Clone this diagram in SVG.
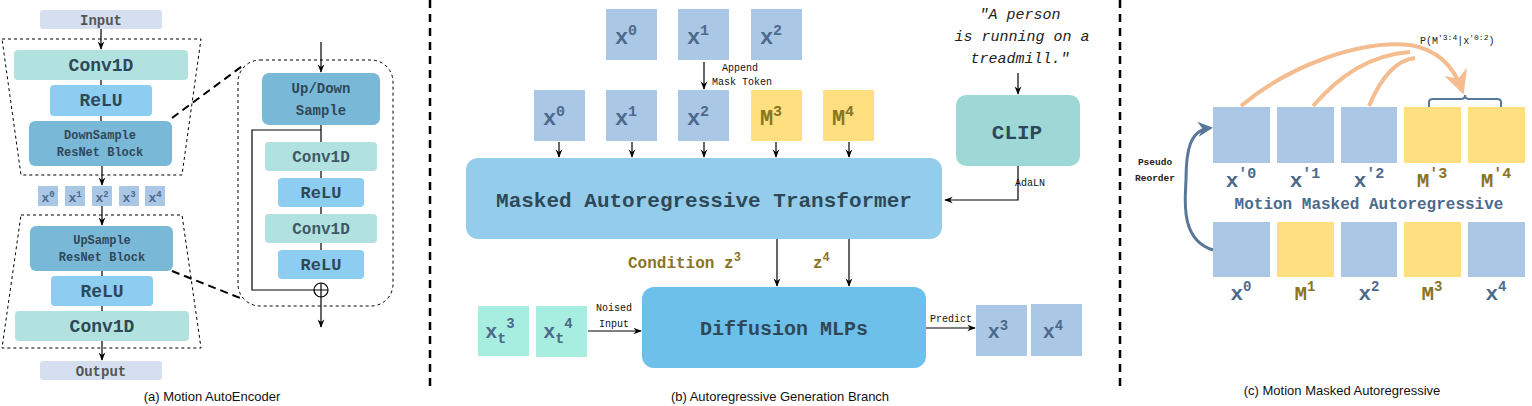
<svg xmlns="http://www.w3.org/2000/svg" width="1532" height="406" viewBox="0 0 1532 406">
<defs>
<marker id="ah" viewBox="0 0 10 10" refX="9" refY="5" markerWidth="7" markerHeight="7" orient="auto"><path d="M0,1 L10,5 L0,9 L3,5z" fill="#000"/></marker>
<marker id="ob" viewBox="0 0 10 10" refX="8" refY="5" markerWidth="6" markerHeight="6" orient="auto"><path d="M0,0 L10,5 L0,10 L3,5z" fill="#F3BD8F"/></marker>
<marker id="bb" viewBox="0 0 10 10" refX="8" refY="5" markerWidth="5" markerHeight="5" orient="auto"><path d="M0,0 L10,5 L0,10 L3,5z" fill="#58789A"/></marker>
<style>
.m{font-family:"Liberation Mono",monospace;font-weight:bold;text-anchor:middle;fill:#2F4858}
.tk{font-family:"Liberation Mono",monospace;font-weight:bold;fill:#4C6A8C;text-anchor:middle}
.ym{fill:#8A7425}
.sm{font-family:"Liberation Mono",monospace;font-size:10px;fill:#111;text-anchor:middle}
.cap{font-family:"Liberation Sans",sans-serif;font-size:13px;fill:#111;text-anchor:middle}
.bl{fill:#AAC8E6}.yl{fill:#FFDF80}
.cv{fill:#B1E2E0}.rl{fill:#8DCDF2}.rb{fill:#7AB8D8}
.ln{stroke:#000;stroke-width:1.2;fill:none}
.ds{stroke:#000;stroke-width:1;stroke-dasharray:3,3;fill:none}
</style>
</defs>
<g stroke="#000" stroke-width="2.5" stroke-dasharray="8,6"><line x1="430" y1="0" x2="430" y2="392"/><line x1="1120" y1="0" x2="1120" y2="392"/></g>

<!-- Panel a -->
<g id="a-input"><rect x="40" y="10" width="122" height="19" rx="3" fill="#D5DFF0"/><text class="m" x="101" y="25" font-size="14" style="fill:#555">Input</text></g>
<path class="ds" d="M2,39 L201,39 L182,175 L21,175 Z"/>
<g id="a-conv1"><rect class="cv" x="14" y="50" width="174" height="30" rx="4"/><text class="m" x="101" y="71" font-size="18">Conv1D</text></g>
<g id="a-relu1"><rect class="rl" x="50" y="85" width="102" height="31" rx="4"/><text class="m" x="101" y="106" font-size="18">ReLU</text></g>
<g id="a-down"><rect class="rb" x="29" y="121" width="143" height="45" rx="6"/><text class="m" x="100" y="139" font-size="12">DownSample</text><text class="m" x="100" y="156" font-size="12">ResNet Block</text></g>
<g id="a-tokens">
<rect class="bl" x="38" y="186" width="20" height="20"/><text class="tk" x="48" y="202" font-size="13">x<tspan dy="-5" font-size="9">0</tspan></text>
<rect class="bl" x="65" y="186" width="20" height="20"/><text class="tk" x="75" y="202" font-size="13">x<tspan dy="-5" font-size="9">1</tspan></text>
<rect class="bl" x="92" y="186" width="20" height="20"/><text class="tk" x="102" y="202" font-size="13">x<tspan dy="-5" font-size="9">2</tspan></text>
<rect class="bl" x="119" y="186" width="20" height="20"/><text class="tk" x="129" y="202" font-size="13">x<tspan dy="-5" font-size="9">3</tspan></text>
<rect class="bl" x="145" y="186" width="20" height="20"/><text class="tk" x="155" y="202" font-size="13">x<tspan dy="-5" font-size="9">4</tspan></text>
</g>
<path class="ds" d="M21,215 L182,215 L201,348 L2,348 Z"/>
<g id="a-up"><rect class="rb" x="30" y="226" width="143" height="45" rx="6"/><text class="m" x="102" y="244" font-size="12">UpSample</text><text class="m" x="102" y="261" font-size="12">ResNet Block</text></g>
<g id="a-relu2"><rect class="rl" x="51" y="276" width="102" height="30" rx="4"/><text class="m" x="102" y="297" font-size="18">ReLU</text></g>
<g id="a-conv2"><rect class="cv" x="15" y="311" width="174" height="30" rx="4"/><text class="m" x="102" y="332" font-size="18">Conv1D</text></g>
<g id="a-output"><rect x="40" y="361" width="122" height="19" rx="3" fill="#D5DFF0"/><text class="m" x="101" y="376" font-size="14" style="fill:#555">Output</text></g>
<text class="cap" x="212" y="401">(a) Motion AutoEncoder</text>

<rect class="ds" x="238" y="60" width="155" height="246" rx="22"/>
<g id="a-updown"><rect class="rb" x="262" y="73" width="118" height="52" rx="7"/><text class="m" x="321" y="93" font-size="14">Up/Down</text><text class="m" x="321" y="115" font-size="14">Sample</text></g>
<g id="a-dconv1"><rect class="cv" x="265" y="142" width="112" height="29" rx="4"/><text class="m" x="321" y="162" font-size="16" style="fill:#405868">Conv1D</text></g>
<g id="a-drelu1"><rect class="rl" x="278" y="178" width="86" height="29" rx="4"/><text class="m" x="321" y="198" font-size="17">ReLU</text></g>
<g id="a-dconv2"><rect class="cv" x="265" y="214" width="112" height="29" rx="4"/><text class="m" x="321" y="234" font-size="16" style="fill:#405868">Conv1D</text></g>
<g id="a-drelu2"><rect class="rl" x="278" y="250" width="86" height="29" rx="4"/><text class="m" x="321" y="270" font-size="17">ReLU</text></g>

<g id="a-connectors">
<line class="ln" x1="101" y1="29" x2="101" y2="49" marker-end="url(#ah)"/>
<line class="ln" x1="101" y1="80" x2="101" y2="85" stroke-width="0.8"/>
<line class="ln" x1="101" y1="116" x2="101" y2="121" stroke-width="0.8"/>
<line class="ln" x1="102" y1="166" x2="102" y2="185" marker-end="url(#ah)"/>
<line class="ln" x1="102" y1="206" x2="102" y2="225" marker-end="url(#ah)"/>
<line class="ln" x1="102" y1="271" x2="102" y2="276" stroke-width="0.8"/>
<line class="ln" x1="102" y1="306" x2="102" y2="311" stroke-width="0.8"/>
<line class="ln" x1="102" y1="341" x2="102" y2="360" marker-end="url(#ah)"/>
<line x1="172" y1="118" x2="245" y2="64" stroke="#000" stroke-width="2" stroke-dasharray="8,5"/>
<line x1="172" y1="271" x2="240" y2="298" stroke="#000" stroke-width="2" stroke-dasharray="8,5"/>
<line class="ln" x1="321" y1="42" x2="321" y2="72" marker-end="url(#ah)"/>
<line class="ln" x1="321" y1="125" x2="321" y2="142" stroke-width="0.8"/>
<line class="ln" x1="321" y1="171" x2="321" y2="178" stroke-width="0.8"/>
<line class="ln" x1="321" y1="207" x2="321" y2="214" stroke-width="0.8"/>
<line class="ln" x1="321" y1="243" x2="321" y2="250" stroke-width="0.8"/>
<path class="ln" d="M321,130 L252,130 L252,290 L315,290"/>
<circle cx="321" cy="290" r="7" fill="none" stroke="#000" stroke-width="1.2"/>
<path class="ln" d="M314,290 H328 M321,283 V297"/>
<line class="ln" x1="321" y1="297" x2="321" y2="327" marker-end="url(#ah)"/>
</g>

<!-- Panel b -->
<g id="b-top">
<rect class="bl" x="606" y="9" width="51" height="51"/><text class="tk" x="626" y="44" font-size="22">x<tspan dy="-9" font-size="15">0</tspan></text>
<rect class="bl" x="678" y="9" width="51" height="51"/><text class="tk" x="698" y="44" font-size="22">x<tspan dy="-9" font-size="15">1</tspan></text>
<rect class="bl" x="751" y="9" width="51" height="51"/><text class="tk" x="771" y="44" font-size="22">x<tspan dy="-9" font-size="15">2</tspan></text>
</g>
<g id="b-row">
<rect class="bl" x="534" y="90" width="51" height="51"/><text class="tk" x="554" y="125" font-size="22">x<tspan dy="-9" font-size="15">0</tspan></text>
<rect class="bl" x="606" y="90" width="51" height="51"/><text class="tk" x="626" y="125" font-size="22">x<tspan dy="-9" font-size="15">1</tspan></text>
<rect class="bl" x="678" y="90" width="51" height="51"/><text class="tk" x="698" y="125" font-size="22">x<tspan dy="-9" font-size="15">2</tspan></text>
<rect class="yl" x="751" y="90" width="51" height="51"/><text class="tk ym" x="771" y="125" font-size="22">M<tspan dy="-9" font-size="15">3</tspan></text>
<rect class="yl" x="823" y="90" width="51" height="51"/><text class="tk ym" x="843" y="125" font-size="22">M<tspan dy="-9" font-size="15">4</tspan></text>
</g>
<g id="b-transformer"><rect x="466" y="158" width="476" height="81" rx="12" fill="#94CDEB"/><text class="m" x="704" y="207" font-size="21">Masked Autoregressive Transformer</text></g>
<g id="b-text"><text font-family="Liberation Mono,monospace" font-style="italic" font-size="15" text-anchor="middle" fill="#222"><tspan x="1020" y="19">"A person</tspan><tspan x="1022" y="41">is running on a</tspan><tspan x="1020" y="63">treadmill."</tspan></text></g>
<g id="b-clip"><rect x="956" y="95" width="124" height="71" rx="10" fill="#9ED8D6"/><text class="m" x="1017" y="139" font-size="21">CLIP</text></g>
<g id="b-diffusion"><rect x="642" y="287" width="284" height="81" rx="12" fill="#6CC0EA"/><text class="m" x="784" y="335" font-size="20">Diffusion MLPs</text></g>
<g id="b-xt">
<rect x="478" y="306" width="51" height="50" fill="#A8EEE0"/><text class="tk" x="500" y="338" font-size="20">x<tspan dy="5" font-size="15">t</tspan><tspan dy="-15" font-size="14">3</tspan></text>
<rect x="536" y="306" width="51" height="51" fill="#A8EEE0"/><text class="tk" x="558" y="338" font-size="20">x<tspan dy="5" font-size="15">t</tspan><tspan dy="-15" font-size="14">4</tspan></text>
</g>
<g id="b-out">
<rect class="bl" x="976" y="305" width="51" height="51"/><text class="tk" x="998" y="338" font-size="20">x<tspan dy="-8" font-size="14">3</tspan></text>
<rect class="bl" x="1031" y="304" width="51" height="52"/><text class="tk" x="1053" y="338" font-size="20">x<tspan dy="-8" font-size="14">4</tspan></text>
</g>
<text font-family="Liberation Mono,monospace" font-weight="bold" font-size="16" fill="#8A7425" x="628" y="268">Condition z<tspan dy="-7" font-size="12">3</tspan></text>
<text font-family="Liberation Mono,monospace" font-weight="bold" font-size="16" fill="#8A7425" x="813" y="268">z<tspan dy="-7" font-size="12">4</tspan></text>
<text class="sm" x="740" y="71">Append</text><text class="sm" x="742" y="85">Mask Token</text>
<text class="sm" x="1030" y="186">AdaLN</text>
<text class="sm" x="614" y="311">Noised</text><text class="sm" x="614" y="327">Input</text>
<text class="sm" x="951" y="322">Predict</text>
<g id="b-connectors">
<line class="ln" x1="704" y1="62" x2="704" y2="89" marker-end="url(#ah)"/>
<line class="ln" x1="559" y1="142" x2="559" y2="157" marker-end="url(#ah)"/>
<line class="ln" x1="632" y1="142" x2="632" y2="157" marker-end="url(#ah)"/>
<line class="ln" x1="704" y1="142" x2="704" y2="157" marker-end="url(#ah)"/>
<line class="ln" x1="776" y1="142" x2="776" y2="157" marker-end="url(#ah)"/>
<line class="ln" x1="849" y1="142" x2="849" y2="157" marker-end="url(#ah)"/>
<line class="ln" x1="1018" y1="73" x2="1018" y2="94" marker-end="url(#ah)"/>
<path class="ln" d="M1018,166 L1018,200 L945,200" marker-end="url(#ah)"/>
<line class="ln" x1="777" y1="239" x2="777" y2="286" marker-end="url(#ah)"/>
<line class="ln" x1="849" y1="239" x2="849" y2="286" marker-end="url(#ah)"/>
<line class="ln" x1="588" y1="331" x2="641" y2="331" marker-end="url(#ah)"/>
<line class="ln" x1="926" y1="328" x2="975" y2="328" marker-end="url(#ah)"/>
</g>
<text class="cap" x="780" y="401">(b) Autoregressive Generation Branch</text>

<!-- Panel c -->
<g id="c-top">
<rect class="bl" x="1213" y="107" width="57" height="56"/><text class="tk" x="1241" y="187" font-size="21">x<tspan dy="-9" font-size="15">'0</tspan></text>
<rect class="bl" x="1277" y="107" width="57" height="56"/><text class="tk" x="1305" y="187" font-size="21">x<tspan dy="-9" font-size="15">'1</tspan></text>
<rect class="bl" x="1341" y="107" width="56" height="56"/><text class="tk" x="1369" y="187" font-size="21">x<tspan dy="-9" font-size="15">'2</tspan></text>
<rect class="yl" x="1404" y="107" width="57" height="56"/><text class="tk ym" x="1432" y="187" font-size="21">M<tspan dy="-9" font-size="15">'3</tspan></text>
<rect class="yl" x="1468" y="107" width="57" height="56"/><text class="tk ym" x="1496" y="187" font-size="21">M<tspan dy="-9" font-size="15">'4</tspan></text>
</g>
<text class="tk" x="1369" y="209" font-size="16">Motion Masked Autoregressive</text>
<g id="c-bottom">
<rect class="bl" x="1213" y="222" width="57" height="55"/><text class="tk" x="1241" y="300" font-size="21">x<tspan dy="-9" font-size="14">0</tspan></text>
<rect class="yl" x="1277" y="222" width="57" height="55"/><text class="tk ym" x="1305" y="300" font-size="21">M<tspan dy="-9" font-size="14">1</tspan></text>
<rect class="bl" x="1341" y="222" width="56" height="55"/><text class="tk" x="1369" y="300" font-size="21">x<tspan dy="-9" font-size="14">2</tspan></text>
<rect class="yl" x="1404" y="222" width="57" height="55"/><text class="tk ym" x="1432" y="300" font-size="21">M<tspan dy="-9" font-size="14">3</tspan></text>
<rect class="bl" x="1468" y="222" width="57" height="55"/><text class="tk" x="1496" y="300" font-size="21">x<tspan dy="-9" font-size="14">4</tspan></text>
</g>
<text font-family="Liberation Mono,monospace" font-size="10" fill="#222" x="1420" y="44">P(M<tspan dy="-4" font-size="8">'3:4</tspan><tspan dy="4">|x</tspan><tspan dy="-4" font-size="8">'0:2</tspan><tspan dy="4">)</tspan></text>
<text font-family="Liberation Mono,monospace" font-weight="bold" font-size="9.5" fill="#222" text-anchor="middle"><tspan x="1155" y="165">Pseudo</tspan><tspan x="1155" y="181">Reorder</tspan></text>
<g id="c-connectors" fill="none">
<path d="M1241,106 C1290,65 1360,40 1410,45 C1440,50 1455,70 1462,90" stroke="#F3BD8F" stroke-width="4" marker-end="url(#ob)"/>
<path d="M1313,106 C1340,75 1370,55 1410,52"  stroke="#F3BD8F" stroke-width="4"/>
<path d="M1369,106 C1380,80 1395,60 1415,58"  stroke="#F3BD8F" stroke-width="4"/>
<path d="M1429,107 V102 Q1429,99 1433,99 H1461 Q1465,99 1465,95 Q1465,99 1469,99 H1497 Q1501,99 1501,102 V107" stroke="#58789A" stroke-width="2"/>
<path d="M1213,250 C1180,240 1185,200 1186,180 C1186,150 1190,130 1210,128" stroke="#58789A" stroke-width="3" marker-end="url(#bb)"/>
</g>
<text class="cap" x="1342" y="395">(c) Motion Masked Autoregressive</text>
</svg>
